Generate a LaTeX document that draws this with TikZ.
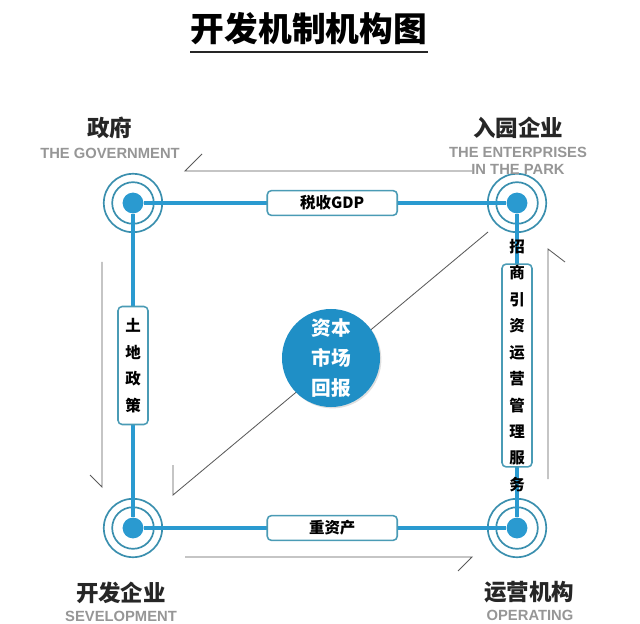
\documentclass[tikz,border=0pt]{standalone}
\usepackage{fontspec}
\setmainfont{Liberation Sans}[BoldFont={Liberation Sans Bold}]
\newfontfamily\cjk{Noto Sans CJK SC}
\usetikzlibrary{shadows}

\definecolor{linkblue}{HTML}{2A9AD0}
\definecolor{ringteal}{HTML}{3A8FAE}
\definecolor{boxteal}{HTML}{4A9BB5}
\definecolor{centerblue}{HTML}{1F8FC6}
\definecolor{labelgray}{HTML}{969696}
\definecolor{flowgray}{HTML}{5A5A5A}

\begin{document}
\begin{tikzpicture}[
    x=0.025cm, y=-0.025cm,
    % Hub: filled dot at each corner
    hub/.style={
        circle, fill=linkblue, minimum size=0.52cm, inner sep=0pt
    },
    % Rings round a hub
    ring/.style={draw=ringteal, line width=1.2pt},
    % Blue link between two hubs
    link/.style={draw=linkblue, line width=2.6pt},
    % Horizontal tag sitting on a link
    tag/.style={
        rectangle, rounded corners=3pt, draw=boxteal, line width=1.1pt,
        fill=white, minimum width=3.25cm, minimum height=0.62cm,
        inner sep=0pt, font=\cjk\bfseries\fontsize{11}{13}\selectfont
    },
    % Vertical tag sitting on a link
    vtag/.style={
        rectangle, rounded corners=3pt, draw=boxteal, line width=1.1pt,
        fill=white, minimum width=0.75cm, inner sep=0pt
    },
    % Text set one character per line
    vtext/.style={
        align=center, inner sep=0pt,
        font=\cjk\bfseries\fontsize{11}{18.8}\selectfont
    },
    % Corner labels
    cname/.style={font=\cjk\bfseries\fontsize{16}{18}\selectfont, text=black!85},
    ename/.style={
        font=\bfseries\fontsize{10.5}{12}\selectfont, text=labelgray,
        align=center, inner sep=0pt
    },
    % Thin gray flow arrow with a single barb
    flow/.style={draw=flowgray, line width=0.6pt},
]
\useasboundingbox (0,0) rectangle (640,624);

% Title
\node[font=\cjk\bfseries\fontsize{24}{28}\selectfont, inner sep=0pt] (title) at (309,29) {开发机制机构图};
\coordinate (rule-l) at (190,52);
\coordinate (rule-r) at (428,52);
\draw[line width=1.6pt, black!85] (rule-l) -- (rule-r);

% Gray flow arrows
\coordinate (top-tip)   at (185,171);
\coordinate (top-tail)  at (472,171);
\coordinate (top-barb)  at (202,154);
\coordinate (rt-tip)    at (548,249);
\coordinate (rt-tail)   at (548,479);
\coordinate (rt-barb)   at (565,262);
\coordinate (bot-tip)   at (472,557);
\coordinate (bot-tail)  at (185,557);
\coordinate (bot-barb)  at (458,571);
\coordinate (lt-tip)    at (102,487);
\coordinate (lt-tail)   at (102,262);
\coordinate (lt-barb)   at (90,475);
\coordinate (diag-tip)  at (173,495);
\coordinate (diag-tail) at (488,232);
\coordinate (diag-barb) at (173,465);

\draw[flow] (top-tail)  -- (top-tip)  -- (top-barb);
\draw[flow] (rt-tail)   -- (rt-tip)   -- (rt-barb);
\draw[flow] (bot-tail)  -- (bot-tip)  -- (bot-barb);
\draw[flow] (lt-tail)   -- (lt-tip)   -- (lt-barb);
\draw[flow] (diag-tail) -- (diag-tip) -- (diag-barb);

% Hubs
\node[hub] (gov) at (133,203) {};
\node[hub] (ent) at (517,203) {};
\node[hub] (dev) at (133,528) {};
\node[hub] (op)  at (517,528) {};

\foreach \h in {gov, ent, dev, op} {
    \draw[ring] (\h) circle[radius=0.52cm];
    \draw[ring] (\h) circle[radius=0.73cm];
}

% Links
\draw[link] (gov) -- node[tag, pos=0.52] (tax) {税收GDP} (ent);
\draw[link] (dev) -- node[tag, pos=0.52] (asset) {重资产} (op);
\draw[link] (gov) -- node[vtag, vtext, minimum height=2.95cm] (land) {土\\地\\政\\策} (dev);
\draw[link] (ent) -- node[vtag, minimum height=5.07cm] (svc) {} (op);
\node[vtext] (svc-txt) at (svc) {招\\商\\引\\资\\运\\营\\管\\理\\服\\务};

% Centre
\node[circle, fill=centerblue, minimum size=2.45cm, inner sep=0pt,
      drop shadow={opacity=0.25, shadow xshift=1pt, shadow yshift=-1pt},
      align=center, text=white,
      font=\cjk\bfseries\fontsize{14}{21.3}\selectfont] (ret) at (331,358) {资本\\市场\\回报};

% Corner labels
\node[cname] (gov-cn) at (110,128) {政府};
\node[ename] (gov-en) at (110,153) {THE GOVERNMENT};
\node[cname] (ent-cn) at (518,128) {入园企业};
\node[ename] (ent-en) at (518,161) {THE ENTERPRISES\\IN THE PARK};
\node[cname] (dev-cn) at (121,593) {开发企业};
\node[ename] (dev-en) at (121,616) {SEVELOPMENT};
\node[cname] (op-cn)  at (529,592) {运营机构};
\node[ename] (op-en)  at (530,615) {OPERATING};

\end{tikzpicture}
\end{document}
